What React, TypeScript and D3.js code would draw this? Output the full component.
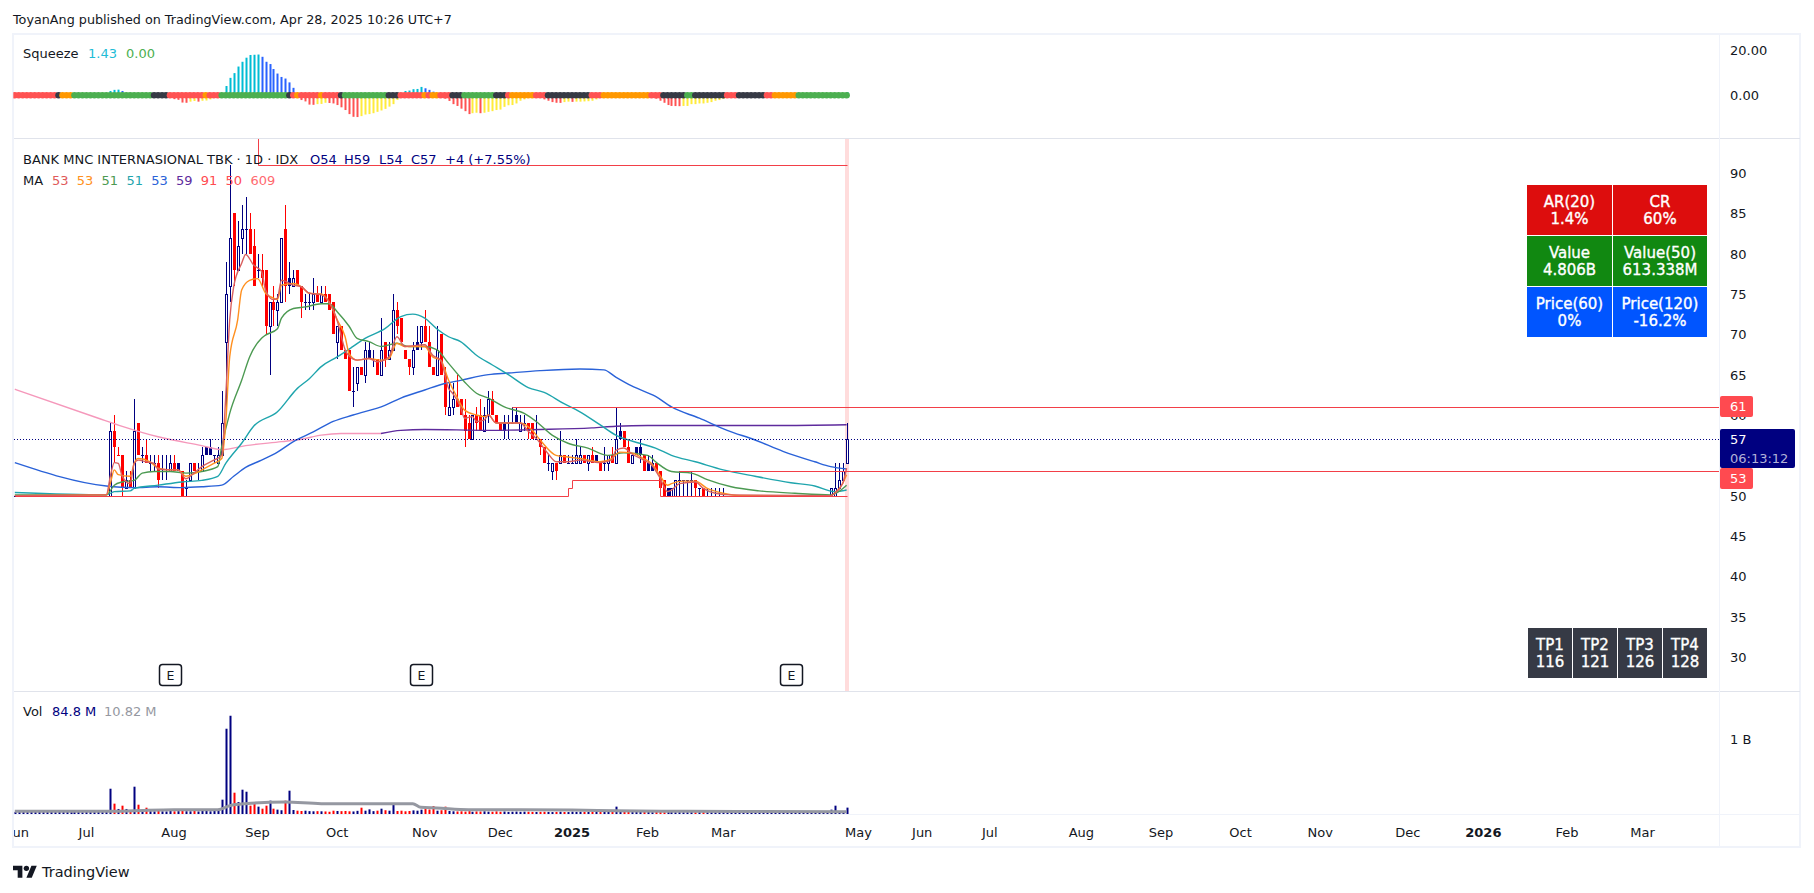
import * as d3 from "d3";

const FONT = '"DejaVu Sans", sans-serif';
const TEXT = "#131722";
const NAVY = "#000080";
const RED = "#ff0000";
const LINE_RED = "#f23f47";

const PANE_LEFT = 14;
const AXIS_X = 1719;

// candles, one entry per trading day (first 24 days are flat at 50)
const opens = [
  50,50,50,50,50,50,50,50,50,50,50,50,50,50,50,50,50,50,50,50,50,50,50,50,
  50,58,55,55,51,52,51,59,55,55,
  54,54,54,53,53,53,54,54,53,51,
  52,54,53,53,56,56,55,54,55,69,
  76,85,78,82,83,83,81,78,78,78,
  71,74,73,74,83,77,76,78,76,74,
  74,74,75,74,75,75,74,69,71,68,
  68,63,64,66,65,68,67,67,65,69,
  67,68,73,72,68,67,66,69,69,71,
  69,66,65,70,65,60,61,62,62,60,
  59,57,60,60,58,60,62,60,59,59,
  59,59,60,58,59,59,59,57,57,56,
  54,53,54,54,55,54,54,54,54,55,
  54,55,55,54,54,54,55,54,58,58,
  56,54,56,56,55,54,54,54,53,52,
  51,50,50,52,52,52,52,52,51,51,
  50,50,50,50,50,
  50,50,50,50,50,50,50,50,50,50,50,50,50,50,50,50,50,50,50,50,50,50,50,50,50,50,
  50,50,51,52,54,
];
const highs = [
  50,50,50,50,50,50,50,50,50,50,50,50,50,50,50,50,50,50,50,50,50,50,50,50,
  59,60,56,55,53,53,62,59,56,57,
  55,55,55,55,55,55,55,54,53,52,
  54,54,54,56,56,57,55,56,63,79,
  91,85,84,86,87,85,83,80,80,78,
  74,76,75,82,86,79,78,78,76,75,
  75,77,76,76,76,75,74,71,71,68,
  68,66,66,66,69,69,68,67,72,69,
  69,75,74,72,68,67,69,71,71,73,
  71,66,71,70,66,64,64,65,62,62,
  60,60,61,62,61,63,63,60,59,60,
  60,61,61,60,60,59,59,60,57,56,
  55,54,54,58,55,55,55,57,56,55,
  55,56,55,54,56,55,56,61,59,58,
  57,55,56,57,55,55,55,54,53,52,
  51,51,52,53,52,52,53,52,51,51,
  51,51,51,51,51,
  50,50,50,50,50,50,50,50,50,50,50,50,50,50,50,50,50,50,50,50,50,50,50,50,50,50,
  51,54,54,54,59,
];
const lows = [
  50,50,50,50,50,50,50,50,50,50,50,50,50,50,50,50,50,50,50,50,50,50,50,50,
  50,54,55,50,51,51,51,55,54,54,
  53,53,51,52,52,53,53,53,50,50,
  52,53,52,53,55,55,54,54,55,61,
  74,76,78,80,80,80,76,77,76,70,
  65,71,71,74,74,75,76,76,72,73,
  73,73,74,74,74,73,70,67,68,67,
  63,61,63,65,64,67,66,65,65,66,
  67,68,70,69,67,65,65,68,68,69,
  66,65,65,65,60,60,60,61,60,56,
  57,57,58,58,58,59,60,59,58,57,
  57,59,59,58,58,57,57,57,55,54,
  53,52,52,54,54,54,54,54,54,54,
  53,54,54,53,53,53,54,54,57,56,
  54,54,55,54,53,53,53,53,51,50,
  50,50,50,50,50,50,50,50,50,50,
  50,50,50,50,50,
  50,50,50,50,50,50,50,50,50,50,50,50,50,50,50,50,50,50,50,50,50,50,50,50,50,50,
  50,50,51,52,54,
];
const closes = [
  50,50,50,50,50,50,50,50,50,50,50,50,50,50,50,50,50,50,50,50,50,50,50,50,
  58,56,55,51,52,51,58,55,55,54,
  54,54,52,53,53,54,53,53,50,51,
  54,53,53,55,55,55,55,55,59,75,
  82,78,81,83,83,80,76,78,77,71,
  74,73,74,82,76,76,77,76,74,74,
  74,75,74,75,74,73,70,71,68,67,
  63,63,66,65,68,67,67,65,68,67,
  68,73,71,69,67,66,68,68,71,69,
  66,65,68,65,61,61,62,61,60,58,
  57,60,59,58,60,62,60,59,58,58,
  59,59,59,59,59,58,57,57,56,54,
  54,54,53,55,54,54,54,55,55,54,
  55,54,54,53,54,55,54,57,57,56,
  54,55,55,55,53,53,53,53,51,50,
  50,51,52,52,52,52,52,51,51,50,
  50,50,50,50,50,
  50,50,50,50,50,50,50,50,50,50,50,50,50,50,50,50,50,50,50,50,50,50,50,50,50,50,
  51,51,52,53,57,
];
// days that closed below their open but above the previous close, drawn solid navy
const navyFilled = [41,48,49,69,89,101,123,126,146,152,156,157,159,160,164];
const redDoji = [26];

// moving averages as [bar, price]
const ma5 = [[0,50],[23,50.1],[24,52.4],[25,54.1],[26,54],[27,52.4],[29,51.5],[30,54],[31,54.4],[33,54.2],[35,54],[36,53.3],[39,53.2],[41,53.2],[43,52.1],[45,52.8],[47,53.6],[50,54.4],[52,55],[53,62.3],[54,71.8],[55,75.9],[57,78.8],[58,79.9],[60,78.6],[62,77.8],[63,75.5],[65,74.3],[66,74.5],[67,76.7],[70,76.1],[72,75.9],[74,75.1],[77,74.9],[79,74],[81,71.7],[83,68.1],[84,67.3],[86,66.8],[89,67],[91,66.6],[94,67.2],[96,69.7],[98,68.5],[103,68.7],[105,67.4],[107,66.8],[109,63.3],[110,62.7],[112,61],[113,59.6],[115,59.8],[116,59.2],[118,59.4],[119,60],[121,59],[127,59],[129,58],[131,57.1],[134,55.2],[136,54.2],[139,54.2],[142,54.4],[147,54.1],[150,54.4],[151,55.6],[153,55.9],[155,55.2],[158,54.4],[160,53.8],[162,52.3],[164,50.5],[165,50.7],[167,51.5],[171,51.7],[173,50.9],[176,50.3],[180,50.1],[205,50],[206,50.3],[208,51.5],[209,53.4]];
const ma10 = [[0,50],[23,50.1],[24,51.5],[25,53.2],[26,52.6],[29,52.4],[30,54],[31,54.6],[34,54.2],[36,53.4],[39,53.2],[41,53.2],[43,52.4],[45,52.7],[47,53.2],[50,54],[52,54.6],[53,59],[54,67.2],[56,71.8],[57,75.5],[59,76.7],[61,76.9],[63,75.1],[65,74.5],[66,74.3],[67,76.1],[70,76.3],[72,75.9],[74,75.1],[77,75],[79,74],[81,71.8],[83,69.7],[84,67.6],[86,66.8],[89,67],[92,66.8],[94,67],[96,68.9],[98,68.5],[103,68.5],[105,67.2],[107,66.8],[109,64.3],[111,62.3],[113,60.6],[116,60],[118,59.8],[119,60],[121,59],[127,59],[130,58.1],[132,56.9],[136,55],[139,54.8],[142,54.6],[147,54.2],[150,54.6],[152,55.4],[155,55.3],[158,54.6],[160,54],[162,52.6],[164,51.3],[165,51.5],[168,51.8],[171,51.8],[174,50.9],[178,50.3],[182,50],[205,50],[206,50.3],[208,51.5],[209,52.6]];
const ma20 = [[0,50.1],[23,50.1],[25,51.3],[27,51.7],[30,51.9],[32,52.8],[35,53],[39,53],[43,52.8],[47,53],[51,53.6],[52,56.1],[54,60.2],[57,64.3],[59,67.2],[62,69.5],[63,69.9],[66,70.7],[67,72],[70,73.2],[73,73.4],[77,73.8],[79,73.8],[81,72.8],[84,71],[86,69.5],[89,69.1],[92,68.5],[96,68.9],[99,68.5],[103,68.5],[106,68.1],[109,66.4],[113,64.1],[116,62.7],[119,62.1],[123,61],[128,60.2],[131,59.2],[135,57.5],[139,56.5],[144,55.9],[149,55],[153,55.3],[159,55],[161,54.2],[165,53],[170,52.8],[174,52],[180,51.1],[187,50.6],[196,50.3],[205,50.1],[207,50.5],[209,51.3]];
const ma50 = [[0,50.4],[23,50.1],[25,50.5],[29,50.6],[30,50.9],[36,51.3],[42,51.7],[47,51.9],[51,52.4],[53,54],[57,56.5],[60,58.6],[66,60.4],[71,63.3],[74,64.5],[77,66],[81,67.2],[85,68.5],[88,69.5],[93,70.7],[97,72.2],[100,72.5],[103,72],[106,70.7],[109,69.7],[112,69.1],[116,67.4],[120,66.2],[124,65],[129,63.4],[133,62.8],[138,61.4],[142,60.4],[147,58.8],[151,57.5],[157,56.5],[161,55.9],[165,55],[171,54.2],[178,53.2],[186,52.4],[195,51.6],[201,51.2],[206,50.5],[209,50.7]];
const ma100 = [[0,54.1],[23,51.2],[30,51],[36,51.1],[42,51],[47,51.1],[52,51.3],[55,52.4],[58,53.5],[62,54.4],[66,55.4],[70,56.7],[75,57.9],[80,59.2],[85,60],[93,61.2],[97,62.1],[103,63.1],[108,63.9],[112,64.3],[119,65],[124,65.2],[132,65.5],[142,65.7],[148,65.6],[151,64.7],[155,63.6],[161,62.3],[165,61],[172,59.6],[179,58.1],[186,56.9],[193,55.5],[201,54.2],[205,53.6],[209,53.3]];
const ma200Early = [[0,63.2],[21,59.6],[27,58.6],[36,57.3],[47,56.2],[52,55.7],[58,56.2],[67,56.7],[72,57],[77,57.5],[82,57.7],[92,57.7]];
const ma200Late = [[92,57.7],[97,58.1],[103,58.2],[119,58.1],[132,58.2],[145,58.4],[151,58.6],[159,58.7],[174,58.7],[191,58.7],[209,58.8]];

// red support / high lines
const highLine = [[61,96],[61,91],[209,91]];
const lowLine = [[0,50],[139,51],[140,52],[162,50],[209,50]];
const resistanceStart = 125;
const resistanceValue = 61;
const supportStart = 167;
const supportValue = 53;
const lastPrice = 57;

const earningsBars = [39, 102, 195];

// volume in millions
const volumes = [
  28,26,27,25,28,26,27,25,26,28,25,27,26,28,25,27,26,24,27,26,25,27,26,28,
  337,138,67,111,67,44,364,124,58,84,
  38,35,42,36,34,40,36,38,44,37,36,40,34,42,42,36,48,60,
  191,1137,1310,284,160,324,297,111,151,98,
  71,111,178,71,58,50,178,311,53,44,
  40,44,38,36,38,36,34,30,44,40,
  38,40,36,34,42,84,44,62,38,44,71,50,44,124,40,44,36,40,48,44,58,66,60,106,44,50,98,40,36,
  34,36,32,38,30,34,33,36,31,30,35,30,33,28,30,32,29,31,30,28,27,29,30,28,26,28,30,27,26,
  31,28,30,29,27,30,28,26,29,27,28,98,
  32,28,30,26,28,45,28,26,25,27,26,24,25,26,24,25,23,24,25,23,24,25,
  23,24,22,23,24,22,23,25,22,24,23,22,24,23,25,22,23,24,22,23,24,22,23,25,22,23,24,22,
  24,23,22,
  58,111,30,32,85,
];
const volumeMa = [[0,36],[24,36],[30,44],[40,58],[51,58],[54,111],[58,138],[68,160],[77,138],[100,138],[102,89],[106,80],[114,58],[140,53],[151,44],[169,36],[209,31]];

// squeeze histogram
const squeeze = [
  0,0,0,0,0,0,0,0,0,0,0,0,0,0,0,0,0,0,0,0,0,0,0,0,
  1.9,2.4,2.5,1.9,0,0,0,0,0,0,0,0,0,0,
  -1,-1.2,-1.7,-2,-3.2,-3.3,-2.8,-2.5,-2.8,-2.4,-2.3,-1.8,-1,-0.5,0.8,
  4.1,7.7,9.8,12.7,14.8,16.6,17.8,17.9,18,17,14.8,13.8,11.6,9.6,8.1,7.4,5.7,3.3,
  -1.2,-2.1,-2.7,-4.1,-4.2,-3.9,-3.8,-3.3,-3.4,-3.6,-4.3,-5.3,-6.5,-8.3,-9.5,-9.6,-9.2,-8.5,-8.3,-7.9,-7.3,-6.7,-6,-5,-3.9,-2,-0.5,
  1.9,2.1,2.7,2.8,3.7,3.1,2.4,1.6,0,
  -0.5,-1.5,-2.5,-3.9,-4.7,-5.9,-7,-8.3,-7.9,-7.7,-7.9,-7.7,-7.3,-7,-6.5,-6.3,-5.1,-4.4,-4.3,-3.6,-2.4,-1.8,-1,
  0,0,-0.8,
  -1.8,-2.4,-3,-3.3,-3.35,-3,-2.8,-2.9,-2.8,-2.8,-2.7,-2.6,-2.4,-1.8,-1,
  0,0,0,0,0,0,0,0,0,0,0,0,
  -0.5,-1.5,-2.4,-3.3,-4.3,-4.7,-4.75,-4.8,-4.7,-4.7,-3.9,-3.9,-3.6,-3.6,-3.3,-3,-2.4,-2.1,-1.6,-1,
  0,0,0,0,0,0,0,0,0,0,0,0,0,0,0,0,0,0,0,0,0,0,0,0,0,0,0,0,0,1.43,
];
// squeeze dot runs: [state, number of bars]
const squeezeRuns: [string, number][] = [
  ["red",11],["dark",1],["orange",3],["green",20],["dark",4],["red",9],["orange",1],["red",3],
  ["green",17],["dark",1],["red",1],["orange",1],["red",5],["orange",1],["red",4],["dark",1],
  ["green",11],["dark",3],["red",6],["orange",1],["red",1],["orange",2],["red",3],["dark",3],
  ["green",8],["dark",3],["red",1],["orange",6],["red",3],["dark",11],["red",3],["orange",12],
  ["red",3],["dark",6],["green",2],["dark",8],["red",3],["dark",7],["red",2],["orange",6],["green",13],
];
const squeezeColors: Record<string, string> = { red: "#ff5252", dark: "#363a45", orange: "#ff9800", green: "#4caf50" };

// axes
const priceTicks = [90, 85, 80, 75, 70, 65, 60, 50, 45, 40, 35, 30];
const monthLabels = ["Jun","Jul","Aug","Sep","Oct","Nov","Dec","2025","Feb","Mar","May","Jun","Jul","Aug","Sep","Oct","Nov","Dec","2026","Feb","Mar"];
const monthBars = [1,18,40,61,81,103,122,140,159,178,212,228,245,268,288,308,328,350,369,390,409];

const maLegend = [
  ["53", "#e05a5a"], ["53", "#ff9020"], ["51", "#4c9a52"], ["51", "#1fa5ad"], ["53", "#2a62d8"],
  ["59", "#5e2b9d"], ["91", "#ff4a50"], ["50", "#ff4a50"], ["609", "#ff6a70"],
];
const ohlcLegend = ["O54", "H59", "L54", "C57", "+4 (+7.55%)"];
const ohlcX = [310, 344, 379, 411, 445];

const statsTable = [
  { label: "AR(20)", value: "1.4%", fill: "#dd0d0d" },
  { label: "CR", value: "60%", fill: "#dd0d0d" },
  { label: "Value", value: "4.806B", fill: "#118811" },
  { label: "Value(50)", value: "613.338M", fill: "#118811" },
  { label: "Price(60)", value: "0%", fill: "#0055ff" },
  { label: "Price(120)", value: "-16.2%", fill: "#0055ff" },
];
const targets = [["TP1", "116"], ["TP2", "121"], ["TP3", "126"], ["TP4", "128"]];

const x = d3.scaleLinear().domain([0, 209]).range([14.8, 846.6]);
const yPrice = d3.scaleLinear().domain([30, 90]).range([657, 173]);
const yVol = d3.scaleLinear().domain([0, 1000]).range([814, 739]);
const ySqueeze = d3.scaleLinear().domain([0, 20]).range([95.3, 50]);

const priceLine = d3
  .line<number[]>()
  .x((d) => x(d[0]))
  .y((d) => yPrice(d[1]))
  .curve(d3.curveMonotoneX);
const stepLine = d3
  .line<number[]>()
  .x((d) => Math.round(x(d[0])) + 0.5)
  .y((d) => Math.round(yPrice(d[1])) + 0.5)
  .curve(d3.curveStepAfter);
const volLine = d3
  .line<number[]>()
  .x((d) => x(d[0]))
  .y((d) => yVol(d[1]))
  .curve(d3.curveMonotoneX);

const squeezeStates = squeezeRuns.flatMap(([state, n]) => d3.range(n).map(() => state));

const histColor = (v: number, prev: number) => {
  if (v > 0) return v > prev ? "#00bcd4" : "#2962ff";
  return v < prev ? "#ff5252" : "#ffeb3b";
};

const Candle = ({ i }: { i: number }) => {
  const o = opens[i];
  const c = closes[i];
  const px = Math.round(x(i));
  const top = Math.round(yPrice(Math.max(o, c)));
  const bottom = Math.round(yPrice(Math.min(o, c)));
  const hi = Math.round(yPrice(highs[i]));
  const lo = Math.round(yPrice(lows[i]));
  const navy = c > o || navyFilled.includes(i) || (c === o && !redDoji.includes(i));
  const color = navy ? NAVY : RED;
  return (
    <g>
      <rect x={px} y={hi} width={1} height={Math.max(lo - hi, 1)} fill={color} />
      {c > o ? (
        <rect x={px - 0.5} y={top + 0.5} width={2} height={bottom - top} fill="#fff" stroke={color} />
      ) : (
        <rect x={px - 1} y={top} width={3} height={Math.max(bottom - top, 1)} fill={color} />
      )}
    </g>
  );
};

const Label = (props: any) => <text fontFamily={FONT} fontSize={13} fill={TEXT} {...props} />;

export default function App() {
  const volColor = (i: number) => (closes[i] < opens[i] && !navyFilled.includes(i) ? RED : NAVY);
  const statX = [1527, 1613];
  const statW = [85, 94];
  const statY = [185, 236, 287];
  const tpX = [1528, 1573, 1618, 1663];
  const cellText = { fill: "#fff", fontSize: 15, stroke: "#fff", strokeWidth: 0.35, textAnchor: "middle" };

  return (
    <svg
      width={1814}
      height={893}
      style={{ position: "absolute", left: 0, top: 0, display: "block", background: "#fff" }}
    >
      <defs>
        <clipPath id="squeezePane">
          <rect x={PANE_LEFT - 0.7} y={35} width={AXIS_X - PANE_LEFT} height={103} />
        </clipPath>
        <clipPath id="main">
          <rect x={PANE_LEFT} y={139} width={AXIS_X - PANE_LEFT} height={553} />
        </clipPath>
        <clipPath id="time">
          <rect x={PANE_LEFT} y={815} width={AXIS_X - PANE_LEFT} height={31} />
        </clipPath>
      </defs>

      <Label x={13} y={24} fontSize={12.75}>
        ToyanAng published on TradingView.com, Apr 28, 2025 10:26 UTC+7
      </Label>

      {/* frame */}
      <rect x={13} y={34} width={1787} height={813} fill="none" stroke="#f0f3fa" strokeWidth={2} />
      <line x1={14} x2={1800} y1={138.5} y2={138.5} stroke="#e0e3eb" />
      <line x1={14} x2={1800} y1={691.5} y2={691.5} stroke="#e0e3eb" />
      <line x1={14} x2={1800} y1={814.5} y2={814.5} stroke="#f0f3fa" />
      <line x1={AXIS_X + 0.5} x2={AXIS_X + 0.5} y1={34} y2={847} stroke="#f0f3fa" />

      {/* last bar highlight */}
      <rect x={845} y={139} width={4} height={552} fill="#ffdcdc" />

      {/* squeeze pane */}
      <g clipPath="url(#squeezePane)">
        {squeeze.map((v, i) =>
          v === 0 ? null : (
            <rect
              key={i}
              x={Math.round(x(i)) - 0.5}
              y={Math.min(ySqueeze(v), ySqueeze(0))}
              width={2}
              height={Math.abs(ySqueeze(v) - ySqueeze(0))}
              fill={histColor(v, i ? squeeze[i - 1] : 0)}
            />
          )
        )}
        {squeezeStates.map((s, i) => (
          <circle key={i} cx={x(i)} cy={ySqueeze(0)} r={3.3} fill={squeezeColors[s]} />
        ))}
      </g>
      <Label x={23} y={58}>Squeeze</Label>
      <Label x={88} y={58} fill="#22bcd6">1.43</Label>
      <Label x={126} y={58} fill="#4caf50">0.00</Label>
      <Label x={1730} y={55}>20.00</Label>
      <Label x={1730} y={100}>0.00</Label>

      {/* price pane */}
      <g clipPath="url(#main)">
        {opens.map((_, i) => (
          <Candle key={i} i={i} />
        ))}
        <path d={priceLine(ma200Early) ?? ""} fill="none" stroke="#f598bb" strokeWidth={1.4} />
        <path d={priceLine(ma200Late) ?? ""} fill="none" stroke="#5e2b9d" strokeWidth={1.4} />
        <path d={priceLine(ma100) ?? ""} fill="none" stroke="#2a62d8" strokeWidth={1.4} />
        <path d={priceLine(ma50) ?? ""} fill="none" stroke="#1fa5ad" strokeWidth={1.4} />
        <path d={priceLine(ma20) ?? ""} fill="none" stroke="#4c9a52" strokeWidth={1.4} />
        <path d={priceLine(ma10) ?? ""} fill="none" stroke="#ff9020" strokeWidth={1.4} />
        <path d={priceLine(ma5) ?? ""} fill="none" stroke="#d9605f" strokeWidth={1.4} />
        <path d={stepLine(highLine) ?? ""} fill="none" stroke={LINE_RED} />
        <path d={stepLine(lowLine) ?? ""} fill="none" stroke={LINE_RED} />
      </g>
      <line
        x1={x(resistanceStart)}
        x2={AXIS_X}
        y1={Math.round(yPrice(resistanceValue)) + 0.5}
        y2={Math.round(yPrice(resistanceValue)) + 0.5}
        stroke={LINE_RED}
      />
      <line
        x1={x(supportStart)}
        x2={AXIS_X}
        y1={Math.round(yPrice(supportValue)) + 0.5}
        y2={Math.round(yPrice(supportValue)) + 0.5}
        stroke={LINE_RED}
      />
      <line
        x1={PANE_LEFT}
        x2={AXIS_X}
        y1={Math.round(yPrice(lastPrice)) + 0.5}
        y2={Math.round(yPrice(lastPrice)) + 0.5}
        stroke={NAVY}
        strokeDasharray="1 2"
      />

      <Label x={23} y={164}>BANK MNC INTERNASIONAL TBK · 1D · IDX</Label>
      {ohlcLegend.map((t, i) => (
        <Label key={t} x={ohlcX[i]} y={164} fill={NAVY}>{t}</Label>
      ))}
      <Label x={23} y={185}>MA</Label>
      {maLegend.map(([t, c], i) => (
        <Label key={i} x={52 + i * 24.8} y={185} fill={c}>{t}</Label>
      ))}

      {earningsBars.map((b) => (
        <g key={b}>
          <rect x={Math.round(x(b)) - 10.5} y={664.5} width={22} height={21} rx={3} fill="#fff" stroke="#131722" strokeWidth={1.5} />
          <Label x={Math.round(x(b)) + 0.5} y={680} textAnchor="middle" fontSize={12.5}>E</Label>
        </g>
      ))}

      {/* stats tables */}
      {statsTable.map((s, i) => {
        const col = i % 2;
        const row = Math.floor(i / 2);
        const cx = statX[col] + statW[col] / 2;
        return (
          <g key={s.label}>
            <rect x={statX[col]} y={statY[row]} width={statW[col]} height={50} fill={s.fill} />
            <Label x={cx} y={statY[row] + 22} {...cellText}>{s.label}</Label>
            <Label x={cx} y={statY[row] + 39} {...cellText}>{s.value}</Label>
          </g>
        );
      })}
      {targets.map(([a, b], i) => (
        <g key={a}>
          <rect x={tpX[i]} y={628} width={44} height={50} fill="#363a45" />
          <Label x={tpX[i] + 22} y={650} {...cellText}>{a}</Label>
          <Label x={tpX[i] + 22} y={667} {...cellText}>{b}</Label>
        </g>
      ))}

      {/* price axis */}
      {priceTicks.map((t) => (
        <Label key={t} x={1730} y={yPrice(t) + 5}>{t}</Label>
      ))}
      <rect x={1720} y={396} width={33} height={21} rx={2} fill="#ff4a50" />
      <Label x={1730} y={411} fill="#fff">{resistanceValue}</Label>
      <rect x={1720} y={429} width={75} height={39} rx={2} fill={NAVY} />
      <Label x={1730} y={444} fill="#fff">{lastPrice}</Label>
      <Label x={1730} y={463} fill="#b2b2d8">06:13:12</Label>
      <rect x={1720} y={468} width={33} height={21} rx={2} fill="#ff4a50" />
      <Label x={1730} y={483} fill="#fff">{supportValue}</Label>

      {/* volume pane */}
      {volumes.map((v, i) => (
        <rect key={i} x={Math.round(x(i)) - 0.5} y={yVol(v)} width={2} height={yVol(0) - yVol(v)} fill={volColor(i)} />
      ))}
      <path d={volLine(volumeMa) ?? ""} fill="none" stroke="#9598a1" strokeWidth={3} />
      <Label x={23} y={716}>Vol</Label>
      <Label x={52} y={716} fill={NAVY}>84.8 M</Label>
      <Label x={104} y={716} fill="#9598a1">10.82 M</Label>
      <Label x={1730} y={744}>1 B</Label>

      {/* time axis */}
      <g clipPath="url(#time)">
        {monthLabels.map((m, i) => (
          <Label
            key={i}
            x={x(monthBars[i])}
            y={837}
            textAnchor="middle"
            fontWeight={/^\d/.test(m) ? 700 : 400}
          >
            {m}
          </Label>
        ))}
      </g>

      {/* logo */}
      <g transform="translate(13,863) scale(0.67)" fill="#131722">
        <path d="M14 22H7V11H0V4h14v18zM28 22h-8l7.5-18h8L28 22z" />
        <circle cx={20} cy={8} r={4} />
      </g>
      <Label x={42} y={877} fontSize={14.5}>TradingView</Label>
    </svg>
  );
}
